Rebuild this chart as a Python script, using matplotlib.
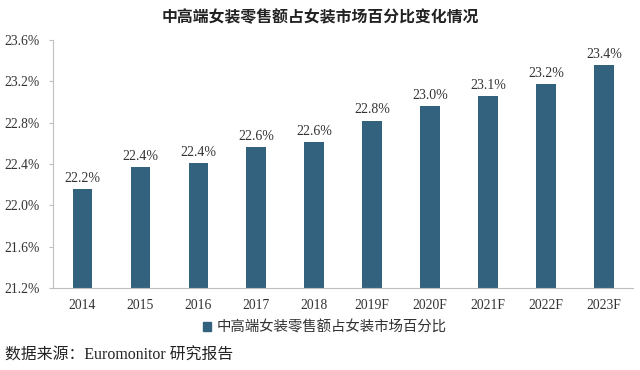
import matplotlib
matplotlib.use("Agg")
import matplotlib.pyplot as plt
from matplotlib.ticker import FuncFormatter, MultipleLocator
from matplotlib.patches import Patch

years = ["2014", "2015", "2016", "2017", "2018", "2019F", "2020F", "2021F", "2022F", "2023F"]
share = [22.16, 22.37, 22.41, 22.56, 22.61, 22.82, 22.96, 23.06, 23.17, 23.36]
title = "中高端女装零售额占女装市场百分比变化情况"
series_name = "中高端女装零售额占女装市场百分比"
source = "数据来源：Euromonitor 研究报告"

FAM = ["Liberation Serif", "Noto Sans CJK SC"]
plt.rcParams["font.family"] = FAM
BAR = "#33627e"
GREY = "#bfbfbf"

fig = plt.figure(figsize=(6.4, 3.7), dpi=100)
ax = fig.add_axes([0.083, 0.222, 0.906, 0.67])

x = range(len(years))
bars = ax.bar(x, share, width=0.33, color=BAR, bottom=0)
ax.bar_label(bars, labels=[f"{v:.1f}%" for v in share], padding=3,
             fontsize=10, color="#333333")

ax.set_ylim(21.2, 23.6)
ax.set_xlim(-0.5, len(years) - 0.5)
ax.yaxis.set_major_locator(MultipleLocator(0.4))
ax.yaxis.set_major_formatter(FuncFormatter(lambda v, p: f"{v:.1f}%"))
ax.set_xticks(list(x))
ax.set_xticklabels(years)

for s in ["top", "right"]:
    ax.spines[s].set_visible(False)
ax.spines["left"].set_color(GREY)
ax.spines["bottom"].set_color(GREY)
ax.tick_params(axis="y", length=3, color=GREY, labelsize=9.8, labelcolor="#333333", pad=6.5)
ax.tick_params(axis="x", length=0, labelsize=9.8, labelcolor="#333333", pad=8)

fig.text(0.5, 0.95, title, ha="center", va="center", fontsize=11.4,
         fontweight="bold", color="#222222")

handle = Patch(facecolor=BAR, edgecolor=BAR)
fig.legend([handle], [series_name], loc="center", bbox_to_anchor=(0.508, 0.115),
           frameon=False, fontsize=10.4, handlelength=0.55, handleheight=0.55,
           handletextpad=0.4, labelcolor="#333333")

fig.text(0.008, 0.038, source, ha="left", va="center", fontsize=11.4, color="#222222")

fig.savefig("out.png", dpi=100)
